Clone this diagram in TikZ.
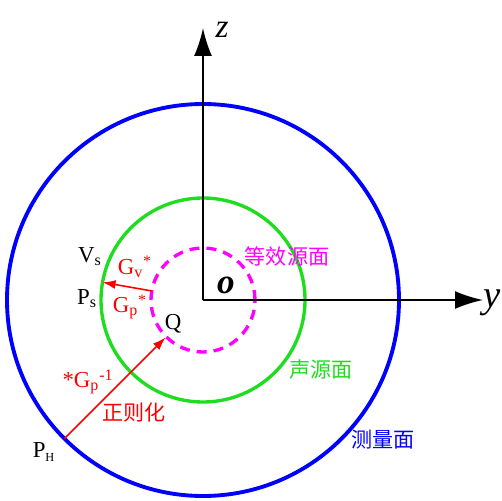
\documentclass[tikz,border=0pt]{standalone}
\usepackage{fontspec}
\setmainfont{Liberation Serif}
\newfontfamily\cjk{Noto Sans CJK SC}
\usetikzlibrary{arrows.meta,positioning}
\definecolor{srcgreen}{RGB}{30,220,30}
\definecolor{eqmag}{RGB}{255,0,255}
\definecolor{measblue}{RGB}{0,0,255}

\begin{document}
\begin{tikzpicture}[x=0.02cm, y=0.02cm,
    axis/.style={line width=1.1pt, -{Latex[length=0.56cm, width=0.36cm]}},
    surf/.style={line width=1.9pt},
    ray/.style={red, line width=0.9pt, -{Latex[length=2.6mm, width=1.8mm]}},
    lbl/.style={font=\fontsize{13}{15}\selectfont, inner sep=0pt},
    zh/.style={font=\cjk\fontsize{12}{14}\selectfont, inner sep=0pt}]

  \useasboundingbox (-203,-200) rectangle (299,300);

  % Define nodes
  \coordinate (O) at (0,0);
  \coordinate (zend) at (0,272);
  \coordinate (yend) at (280,0);
  \coordinate (Es) at (170:52);
  \coordinate (Ps) at (170:102);
  \coordinate (Q) at (225:53);
  \coordinate (PH) at (225:196);

  % surfaces
  \draw[surf, measblue, line width=2.2pt] (O) circle[radius=196];
  \draw[surf, srcgreen] (O) circle[radius=102];
  \draw[surf, eqmag, dash pattern=on 5.7pt off 4pt] (O) circle[radius=52];

  % axes
  \draw[axis] (O) -- (zend);
  \draw[axis] (O) -- (yend);
  \node[lbl, font=\fontsize{19}{21}\selectfont] (zlab) at (19,270) {\textit{z}};
  \node[lbl, font=\fontsize{22}{24}\selectfont] (ylab) at (289,-3) {\textit{y}};
  \node[lbl, font=\fontsize{20}{22}\selectfont] (olab) at (23,15) {\textbf{\textit{o}}};

  \draw[ray] (Es) -- (Ps);
  \draw[ray] (PH) -- (Q);

  % labels
  \node[lbl] (Vslab) at (-113,43) {V\textsubscript{s}};
  \node[lbl] (Pslab) at (-116,1) {P\textsubscript{s}};
  \node[lbl, red] (Gv) at (-68,33) {G\textsubscript{v}\textsuperscript{*}};
  \node[lbl, red] (Gp) at (-73,-7) {G\textsubscript{p}\textsuperscript{*}};
  \node[lbl] (Qlab) at (-30,-24) {Q};
  \node[lbl, red] (Ginv) at (-115,-82) {*G\textsubscript{p}\textsuperscript{-1}};
  \node[zh, red] (reg) at (-69,-112) {正则化};
  \node[lbl] (PHlab) at (-159,-152) {P\textsubscript{\fontsize{7}{8}\selectfont H}};
  \node[zh, eqmag] (eqs) at (84,44) {等效源面};
  \node[zh, srcgreen] (src) at (118,-70) {声源面};
  \node[zh, measblue] (meas) at (180,-140) {测量面};

\end{tikzpicture}
\end{document}
